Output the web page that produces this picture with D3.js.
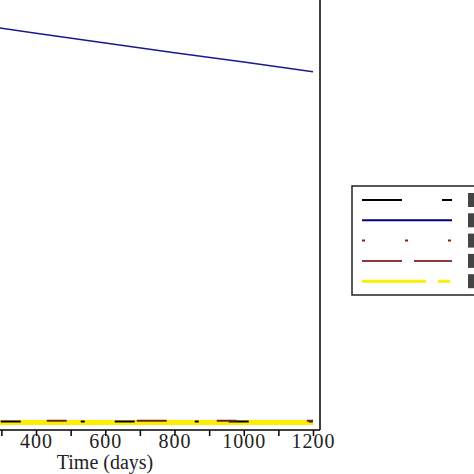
<!DOCTYPE html><html><head><meta charset="utf-8">
<script src="https://cdn.jsdelivr.net/npm/d3@7"></script>
<style>body{margin:0;background:#fff}</style></head><body><svg id="c" width="474" height="474"></svg>
<script>
const days = [200,400,600,800,1000,1200];
const blueVals = [0.945,0.922,0.899,0.876,0.854,0.831];
const yellowVals = [0.006,0.006,0.006,0.006,0.006,0.006];
const blackVals = [0.008,0.008,0.008,0.008,0.008,0.008];
const brownVals = [0.010,0.010,0.010,0.010,0.010,0.010];
const xTicks = [200,300,400,500,600,700,800,900,1000,1100,1200];
const xLabels = [400,600,800,1000,1200];
const legendStyles = [
 {c:"#000",w:2,d:"40,40,12,40"},
 {c:"#000080",w:2,d:null},
 {c:"#8b2500",w:2,d:"3,40"},
 {c:"#8b3a3a",w:2,d:"40,12"},
 {c:"#ffee00",w:3,d:"64,12,12,40"}];
const svg=d3.select("#c");
svg.append("defs").append("clipPath").attr("id","pc").append("rect").attr("x",0).attr("y",0).attr("width",313).attr("height",430);
const x=d3.scaleLinear().domain([400,1200]).range([36,313]);
const y=d3.scaleLinear().domain([0,1]).range([425,0]);
const line=v=>d3.line().x((d,i)=>x(days[i])).y(d=>y(d))(v);
const g=svg.append("g").attr("clip-path","url(#pc)");
g.append("path").attr("d",line(yellowVals)).attr("stroke","#ffee00").attr("stroke-width",5).attr("fill","none");
g.append("path").attr("d",line(blackVals)).attr("stroke","#000").attr("stroke-width",2).attr("stroke-dasharray","4,30,20,60").attr("fill","none");
g.append("path").attr("d",line(brownVals)).attr("stroke","#6b2a10").attr("stroke-width",2).attr("stroke-dasharray","30,50,20,70").attr("fill","none");
g.append("path").attr("d",line(blueVals)).attr("stroke","#1a1a8c").attr("stroke-width",1.5).attr("fill","none");
svg.append("line").attr("x1",0).attr("x2",320).attr("y1",430).attr("y2",430).attr("stroke","#000").attr("stroke-width",1.5);
svg.append("line").attr("x1",320).attr("x2",320).attr("y1",0).attr("y2",430).attr("stroke","#000").attr("stroke-width",1.5);
const ax=svg.append("g").attr("transform","translate(0,430)")
 .call(d3.axisBottom(x).tickValues(xTicks).tickSize(6).tickFormat(d=>xLabels.includes(d)?d:""));
ax.select(".domain").remove();
ax.selectAll("line").attr("stroke-width",1.5);
ax.selectAll("text").attr("font-family","Liberation Serif").attr("font-size",20).attr("fill","#222").attr("dy","0.45em").attr("letter-spacing","1");
svg.append("text").attr("x",105).attr("y",469).attr("text-anchor","middle").attr("font-family","Liberation Serif").attr("font-size",20).attr("fill","#222").text("Time (days)");
const lg=svg.append("g");
lg.append("rect").attr("x",352).attr("y",186).attr("width",130).attr("height",109).attr("fill","#fff").attr("stroke","#222").attr("stroke-width",1.5);
legendStyles.forEach((s,i)=>{
 const yy=200+i*20.3;
 lg.append("line").attr("x1",362).attr("x2",452).attr("y1",yy).attr("y2",yy).attr("stroke",s.c).attr("stroke-width",s.w).attr("stroke-dasharray",s.d);
 lg.append("rect").attr("x",468).attr("y",yy-7).attr("width",8).attr("height",14).attr("fill","#444");
});
</script></body></html>
